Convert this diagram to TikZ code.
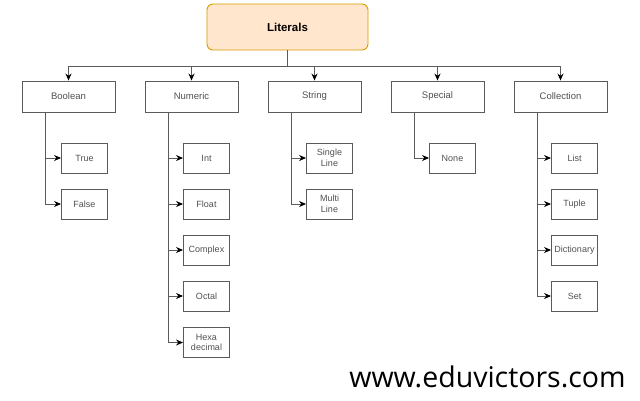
\documentclass[tikz,border=0pt]{standalone}
\usepackage{fontspec}
\setmainfont{Liberation Sans}
\newfontfamily\markfont{Open Sans}
\usetikzlibrary{arrows.meta,calc}

\definecolor{litfill}{RGB}{255,230,204}
\definecolor{litdraw}{RGB}{215,155,0}
\definecolor{boxline}{RGB}{90,90,90}
\definecolor{boxtext}{RGB}{80,80,80}

\tikzset{
  catbox/.style={draw=boxline, line width=0.9pt, minimum width=93pt, minimum height=31pt,
    inner sep=1pt, text=boxtext, font=\fontsize{9.5}{10}\selectfont},
  subbox/.style={draw=boxline, line width=0.9pt, minimum width=46pt, minimum height=30pt,
    inner sep=1pt, text=boxtext, align=center, font=\fontsize{9}{10.5}\selectfont},
  arr/.style={draw=boxline, line width=0.9pt, -{Stealth[length=7pt,width=6pt,color=black]}},
}

\begin{document}
\begin{tikzpicture}[x=1pt,y=-1pt]
  \useasboundingbox (0,0) rectangle (640,400);

  % root
  \node[draw=litdraw, fill=litfill, rounded corners=6pt, line width=0.9pt,
        minimum width=161pt, minimum height=46pt, font=\bfseries\fontsize{11.5}{13}\selectfont] (lit) at (287.5,27) {Literals};
  \coordinate (bus) at (288,66);

  % categories
  \node[catbox] (bool) at (68.5,96.5) {Boolean};
  \node[catbox] (num) at (191.5,96.5) {Numeric};
  \node[catbox] (str) at (314.5,96.5) {String};
  \node[catbox] (spec) at (437.5,96.5) {Special};
  \node[catbox] (coll) at (560.5,96.5) {Collection};

  \foreach \c in {bool,num,str,spec,coll}
    \draw[arr] (lit.south) -- (lit.south |- bus) -| (\c.north);

  % Boolean
  \node[subbox] (true) at (84.5,158) {True};
  \node[subbox] (false) at (84.5,204) {False};
  % Numeric
  \node[subbox] (int) at (206.5,158) {Int};
  \node[subbox] (float) at (206.5,204) {Float};
  \node[subbox] (cplx) at (206.5,250) {Complex};
  \node[subbox] (oct) at (206.5,296) {Octal};
  \node[subbox] (hex) at (206.5,342.5) {Hexa\\decimal};
  % String
  \node[subbox] (single) at (329.5,158) {Single\\Line};
  \node[subbox] (multi) at (329.5,204) {Multi\\Line};
  % Special
  \node[subbox] (none) at (452.5,158) {None};
  % Collection
  \node[subbox] (list) at (574.5,158) {List};
  \node[subbox] (tuple) at (574.5,204) {Tuple};
  \node[subbox] (dict) at (574.5,250) {Dictionary};
  \node[subbox] (set) at (574.5,296) {Set};

  \foreach \p/\k in {bool/true,bool/false,num/int,num/float,num/cplx,num/oct,num/hex,
      str/single,str/multi,spec/none,coll/list,coll/tuple,coll/dict,coll/set}
    \draw[arr] ($(\p.south west)!.25!(\p.south east)$) |- (\k.west);

  % watermark
  \node[inner sep=0pt, font=\markfont\fontsize{28.5}{30}\selectfont] (mark) at (487.5,377) {www.eduvictors.com};
\end{tikzpicture}
\end{document}
